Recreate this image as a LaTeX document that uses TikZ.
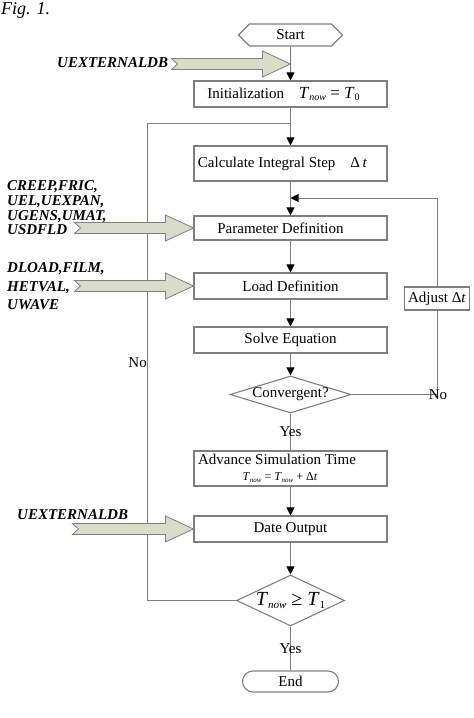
\documentclass[tikz,border=0pt]{standalone}
\usepackage{fontspec}
\setmainfont{Liberation Serif}
\usetikzlibrary{arrows.meta,shapes.geometric,shapes.symbols,shapes.misc}
\definecolor{lc}{HTML}{7F7F7F}
\definecolor{af}{HTML}{D8DCC8}
\newcommand\sub[2]{\raisebox{-0.3ex}{\fontsize{#1}{#1}\selectfont\itshape #2}}
\newcommand\fatarrow[2]{\draw[fatarrow, shift={(#1)}] (-#2,5.5) -- (-28,5.5) -- (-28,13) -- (0,0) -- (-28,-13) -- (-28,-5.5) -- (-#2,-5.5) -- ({-#2+6},0) -- cycle;}
\begin{document}
\begin{tikzpicture}[x=1pt,y=-1pt, font=\fontsize{15}{17}\selectfont,
  line/.style={draw=lc, line width=1pt},
  arr/.style={line, -{Triangle[width=8pt,length=8pt,color=black]}},
  shp/.style={draw=lc, line width=1.1pt, inner sep=0pt},
  box/.style={shp, rectangle, minimum width=193pt},
  lab/.style={font=\fontsize{15}{15}\selectfont\bfseries\itshape, align=left, inner sep=0pt},
  fatarrow/.style={draw=lc, fill=af, line width=0.8pt, line join=miter}]
\useasboundingbox (0,0) rectangle (474,718);

\node[anchor=base west, inner sep=0pt, font=\fontsize{18}{18}\selectfont\itshape] (fig) at (1,14) {Fig. 1.};

\node[shp, signal, signal to=west and east, signal pointer angle=90, minimum width=104pt, minimum height=22pt] (start) at (290.5,35) {Start};
\node[box, minimum height=26pt] (init) at (290.5,94) {Initialization\quad{\fontsize{17}{17}\selectfont\textit{T}\sub{10}{now} = \textit{T}\sub{10}{\upshape 0}}\hspace*{14pt}};
\node[box, minimum height=35pt] (calc) at (290.5,163.5) {Calculate Integral Step\quad Δ\,\textit{t}\hspace*{16pt}};
\node[box, minimum height=24pt] (param) at (290.5,228) {Parameter Definition\hspace*{20pt}};
\node[box, minimum height=26pt] (load) at (290.5,286) {Load Definition};
\node[box, minimum height=26pt] (solve) at (290.5,340) {Solve Equation};
\node[shp, diamond, aspect=3.3, minimum width=121pt, minimum height=37pt] (conv) at (290.5,394.5) {Convergent?};
\node[box, minimum height=35pt, align=center] (adv) at (290.5,468.5) {Advance Simulation Time\hspace*{27pt}\\[-1pt] {\fontsize{12}{12}\selectfont\textit{T}\sub{7}{now} = \textit{T}\sub{7}{now} + Δ\textit{t}}\hspace*{21pt}};
\node[box, minimum height=26pt] (date) at (290.5,529) {Date Output};
\node[shp, diamond, aspect=2.1, minimum width=108pt, minimum height=51pt] (tend) at (290.5,600.5) {\fontsize{20}{20}\selectfont\textit{T}\sub{11}{now} ≥ \textit{T}\sub{11}{\upshape 1}};
\node[shp, rounded rectangle, minimum width=96pt, minimum height=21pt] (end) at (290.5,681.5) {End};
\node[shp, rectangle, minimum width=65pt, minimum height=23pt] (adj) at (437,298.5) {Adjust Δ\textit{t}};

\coordinate (j1) at (290.5,123);
\coordinate (j2) at (290.5,198);
\coordinate (lx) at (147,123);
\coordinate (ua) at (290.5,64);

\draw[arr] (start) -- (init);
\draw[arr] (init) -- (calc);
\draw[arr] (calc) -- (param);
\draw[arr] (param) -- (load);
\draw[arr] (load) -- (solve);
\draw[arr] (solve) -- (conv);
\draw[line] (conv) -- node[inner sep=0pt] {Yes} (adv);
\draw[arr] (adv) -- (date);
\draw[arr] (date) -- (tend);
\draw[line] (tend) -- node[inner sep=0pt] {Yes} (end);
\draw[line] (tend.west) -| (lx) -- (j1);
\draw[line] (conv.east) -| (adj.south);
\draw[arr] (adj.north) |- (j2);
\node[anchor=east, inner sep=0pt] (no1) at (147,363) {No};
\node[inner sep=0pt] (no2) at (438,395) {No};

\fatarrow{ua}{119}
\fatarrow{param.west}{119}
\fatarrow{load.west}{119}
\fatarrow{date.west}{121}

\node[lab, anchor=west] (ext1) at (57,63) {UEXTERNALDB};
\node[lab, anchor=west, font=\fontsize{15}{14.7}\selectfont\bfseries\itshape] (sub1) at (7,208) {CREEP,FRIC,\\UEL,UEXPAN,\\UGENS,UMAT,\\USDFLD};
\node[lab, anchor=west, font=\fontsize{15}{18.5}\selectfont\bfseries\itshape] (sub2) at (7,286.5) {DLOAD,FILM,\\HETVAL,\\UWAVE};
\node[lab, anchor=west] (ext2) at (17,515) {UEXTERNALDB};
\end{tikzpicture}
\end{document}
